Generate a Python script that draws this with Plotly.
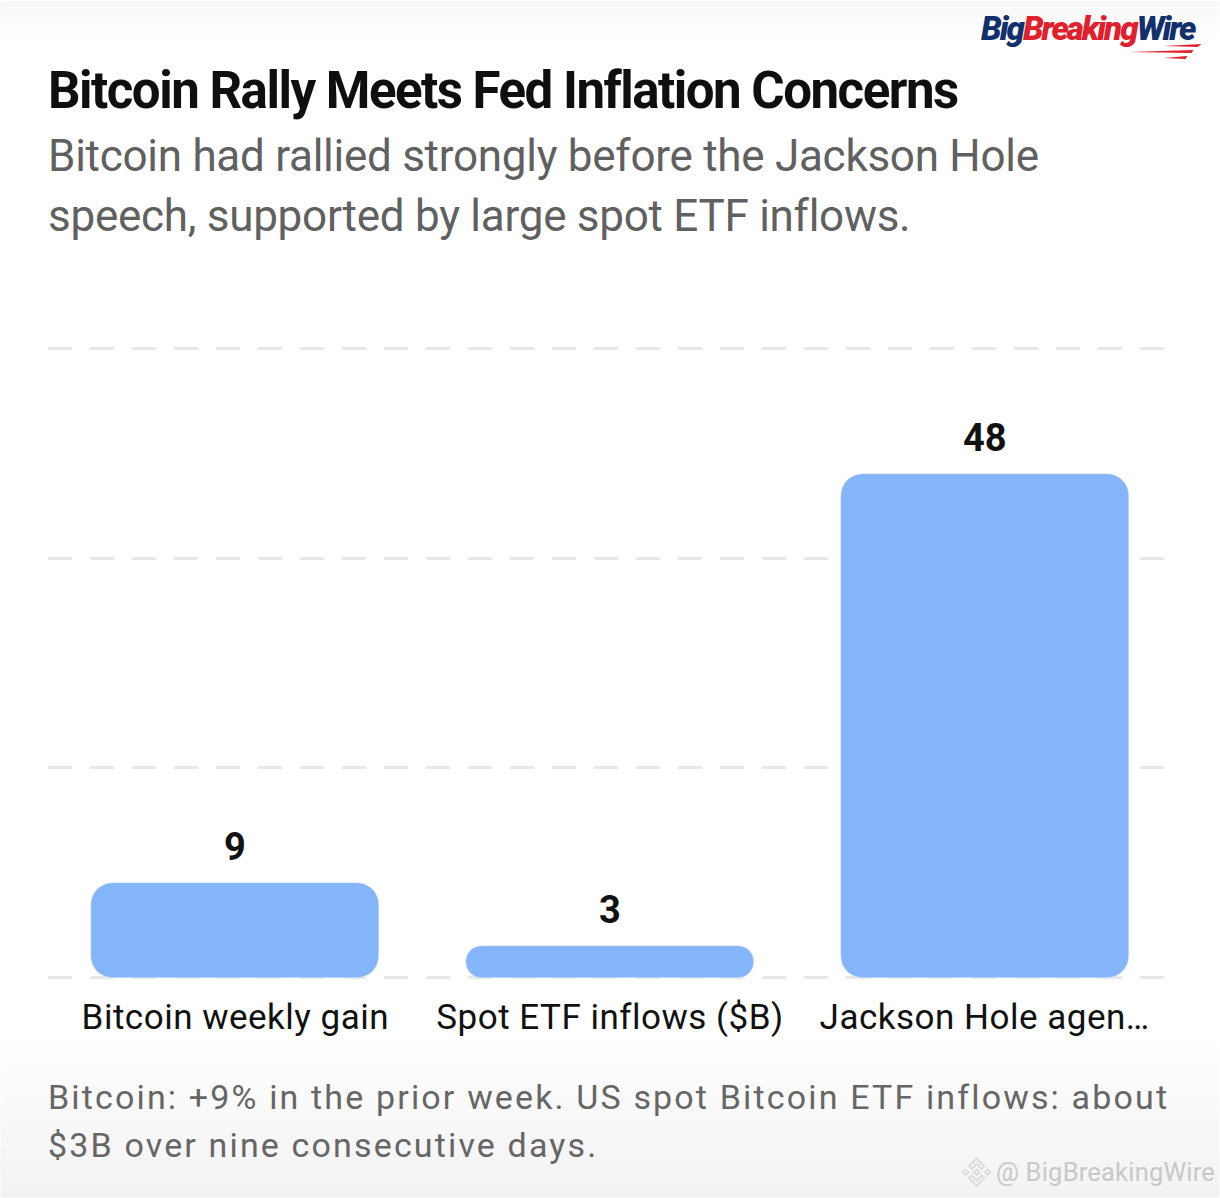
import plotly.graph_objects as go

categories = ["Bitcoin weekly gain", "Spot ETF inflows ($B)", "Jackson Hole agen…"]
values = [9, 3, 48]
grid_ticks = [0, 20, 40, 60]

title = "Bitcoin Rally Meets Fed Inflation Concerns"
subtitle = ["Bitcoin had rallied strongly before the Jackson Hole",
            "speech, supported by large spot ETF inflows."]
footer = ["Bitcoin: +9% in the prior week. US spot Bitcoin ETF inflows: about",
          "$3B over nine consecutive days."]

W, H = 1220, 1198
# range runs one unit past the grid on both ends, plotly drops gridlines sitting on the edge
L, R, T, B = 47.5, 1172.5, 337.5, 988.5
BAR = "#84b5fa"


def px(x):
    return (x - L) / (R - L)


def py(y):
    return (B - y) / (B - T)


def note(x, y, text, size, color, weight=400, family="Roboto", style="normal"):
    return dict(xref="paper", yref="paper", x=px(x), y=py(y), text=text, showarrow=False,
                xanchor="left", yanchor="middle", align="left",
                font=dict(family=family, size=size, color=color, weight=weight, style=style))


def path_px(points):
    return "M" + "L".join(f"{px(a):.5f},{py(b):.5f}" for a, b in points) + "Z"


fig = go.Figure()
# an explicit base makes plotly round both ends of the bar
fig.add_bar(x=categories, y=values, base=[0, 0, 0], marker_color=BAR, width=0.768, hoverinfo="skip")

shapes = []
# soft grey fade at the top and bottom of the card
for i in range(8):
    c = 248 + i
    shapes.append(dict(type="rect", xref="paper", yref="paper", layer="below", line_width=0,
                       x0=px(0), x1=px(W), y0=py(i * 5), y1=py(i * 5 + 5),
                       fillcolor=f"rgb({c},{c},{c})"))
for i in range(12):
    y0 = 1042 + i * 13
    c = 254 - i
    shapes.append(dict(type="rect", xref="paper", yref="paper", layer="below", line_width=0,
                       x0=px(0), x1=px(W), y0=py(y0), y1=py(y0 + 13),
                       fillcolor=f"rgb({c},{c},{c})"))

# logo swoosh
for pts in ([(1164, 45), (1202, 43), (1198, 46)],
            [(1129, 51), (1194, 49), (1192, 52)],
            [(1164, 57), (1188, 55), (1186, 58)]):
    shapes.append(dict(type="path", xref="paper", yref="paper", path=path_px(pts),
                       fillcolor="#e0202c", line_width=0))

# watermark icon: two chevrons, two side diamonds, one centre diamond
cx, cy = 977, 1173
icon = [
    [(cx, cy - 14), (cx + 8, cy - 6), (cx + 5, cy - 3), (cx, cy - 8), (cx - 5, cy - 3), (cx - 8, cy - 6)],
    [(cx, cy + 14), (cx + 8, cy + 6), (cx + 5, cy + 3), (cx, cy + 8), (cx - 5, cy + 3), (cx - 8, cy + 6)],
    [(cx - 11, cy - 3), (cx - 8, cy), (cx - 11, cy + 3), (cx - 14, cy)],
    [(cx + 11, cy - 3), (cx + 14, cy), (cx + 11, cy + 3), (cx + 8, cy)],
    [(cx, cy - 3), (cx + 3, cy), (cx, cy + 3), (cx - 3, cy)],
]
for pts in icon:
    shapes.append(dict(type="path", xref="paper", yref="paper", path=path_px(pts),
                       fillcolor="#ececec", line=dict(color="#c6c6c6", width=1)))

annotations = [
    note(45, 90, title, 51, "#0f0f0f", weight=700),
    note(45, 155, subtitle[0], 44, "#606060"),
    note(45, 215, subtitle[1], 44, "#606060"),
    note(45, 1098, footer[0], 34, "#666666"),
    note(45, 1146, footer[1], 34, "#666666"),
    note(979, 28, '<span style="color:#12306b">Big</span><span style="color:#e0202c">Breaking</span>'
                  '<span style="color:#12306b">Wire</span>',
         33, "#12306b", weight=900, style="italic"),
    note(994, 1173, "@ BigBreakingWire", 25.5, "#c8c8c8"),
]
# value labels sit higher above the bars than plotly's outside text, so they are annotations
for cat, val in zip(categories, values):
    annotations.append(dict(x=cat, y=val, text=str(val), showarrow=False, yanchor="bottom", yshift=12,
                            font=dict(family="Roboto", size=38, color="#111111", weight=700)))

fig.update_layout(
    width=W, height=H, margin=dict(l=L, r=W - R, t=T, b=H - B, pad=0),
    autosize=False, barmode="overlay", bargap=0, showlegend=False,
    paper_bgcolor="#ffffff", plot_bgcolor="rgba(0,0,0,0)",
    barcornerradius=22, shapes=shapes, annotations=annotations,
    xaxis=dict(type="category", range=[-0.5, 2.5], showgrid=False, showline=False, ticks="",
               tickfont=dict(family="Roboto", size=35, color="#111111"), ticklen=0,
               ticklabelstandoff=5, automargin=False),
    yaxis=dict(range=[-1, 61], tickvals=grid_ticks, showticklabels=False, zeroline=False,
               showline=False, ticks="", gridcolor="#e8e8e8", gridwidth=3, griddash="24px,18px",
               automargin=False),
)

# plotly has no letter spacing option, and the page body has a default margin
post = """
document.body.style.margin = '0';
document.documentElement.style.overflow = 'hidden';
var sp = ['-1.5px', '-0.27px', '-0.27px', '2.15px', '2.15px', '-2px', '0.2px'];
document.querySelectorAll('.annotation-text').forEach(function (t, i) { if (sp[i]) t.style.letterSpacing = sp[i]; });
document.querySelectorAll('.xtick text').forEach(function (t) { t.style.letterSpacing = '0.5px'; });
"""
fig.write_html("out.html", post_script=post, config=dict(displayModeBar=False))
